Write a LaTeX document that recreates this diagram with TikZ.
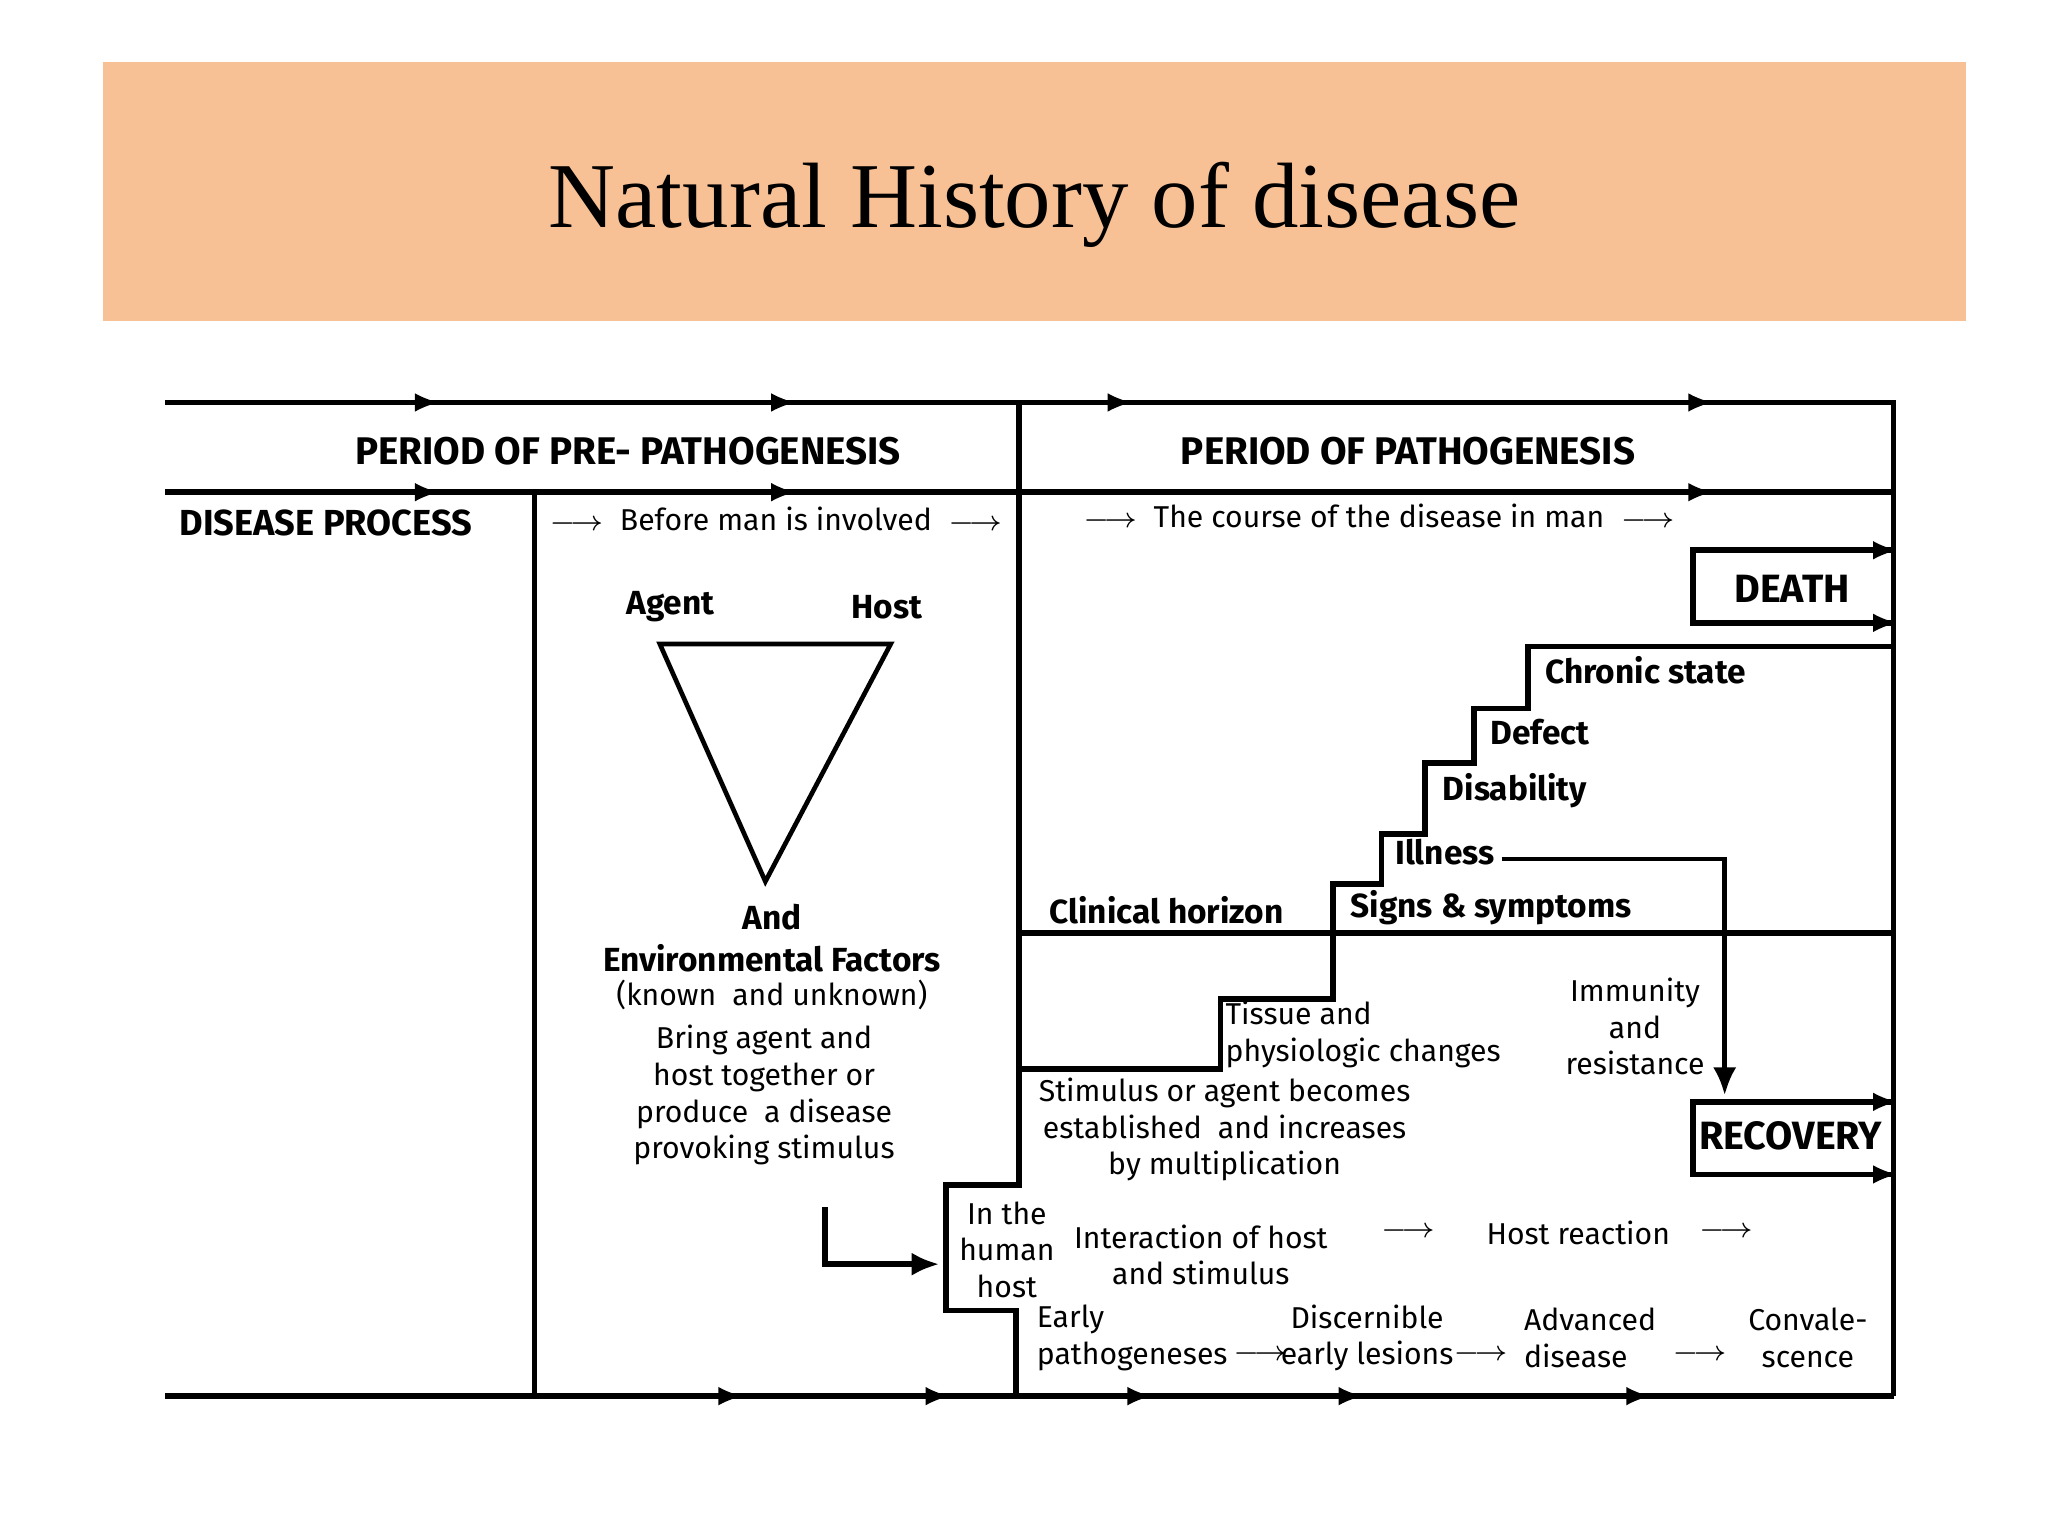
\documentclass[tikz,border=0pt]{standalone}
\usepackage{fontspec}
\setmainfont{Fira Sans}
\newfontfamily\titlefont{Liberation Serif}
\usetikzlibrary{arrows.meta}
\begin{document}
\begin{tikzpicture}[x=0.01cm,y=-0.01cm,
  ln/.style={line width=1.2pt},
  tk/.style={-{Latex[length=5pt,width=4pt]}},
  bl/.style={font=\fontsize{7.2}{9}\selectfont\bfseries},
  tx/.style={font=\fontsize{6.5}{7.9}\selectfont,align=center}]
\useasboundingbox (0,0) rectangle (1552,1164);
\fill[white] (0,0) rectangle (1552,1164);
\fill[fill={rgb,255:red,248;green,193;blue,149}] (78,47) rectangle (1490,243);
\node[font=\titlefont\fontsize{20}{24}\selectfont] (title) at (784,155) {Natural History of disease};
% frame lines
\draw[ln] (125,305) -- (1435,305) -- (1435,1058);
\draw[ln] (125,373) -- (1435,373);
\draw[ln] (125,1058) -- (1435,1058);
\draw[ln] (405,373) -- (405,1058);
\draw[ln] (772,305) -- (772,898) -- (717,898) -- (717,993) -- (770,993) -- (770,1058);
\draw[ln] (772,707) -- (1435,707);
\draw[ln] (772,810) -- (925,810) -- (925,757) -- (1010,757) -- (1010,670) -- (1047,670) -- (1047,632) -- (1080,632) -- (1080,578) -- (1117,578) -- (1117,537) -- (1158,537) -- (1158,490) -- (1435,490);
% tick arrows
\foreach \x in {330,600,855,1295} \draw[tk] (\x-10,305) -- (\x+2,305);
\foreach \x in {330,600,1295} \draw[tk] (\x-10,373) -- (\x+2,373);
\foreach \x in {560,717,870,1030,1248} \draw[tk] (\x-10,1058) -- (\x+2,1058);
% boxes
\draw[ln] (1435,417) -- (1283,417) -- (1283,472) -- (1435,472);
\draw[tk] (1420,417) -- (1437,417); \draw[tk] (1420,472) -- (1437,472);
\node[font=\fontsize{8.5}{10}\selectfont\bfseries] (death) at (1358,446) {DEATH};
\draw[ln] (1435,835) -- (1283,835) -- (1283,890) -- (1435,890);
\draw[tk] (1420,835) -- (1437,835); \draw[tk] (1420,890) -- (1437,890);
\node[font=\fontsize{8.5}{10}\selectfont\bfseries] (rec) at (1357,861) {RECOVERY};
% illness arrow
\draw[line width=1pt,-{Latex[length=6pt,width=5pt]}] (1138,651) -- (1307,651) -- (1307,830);
% triangle
\draw[line width=1pt] (500,488) -- (675,488) -- (580,668) -- cycle;
\draw[line width=1.2pt,-{Latex[length=6pt,width=5pt]}] (625,915) -- (625,958) -- (712,958);
% headings
\node[font=\fontsize{8.3}{10}\selectfont\bfseries] (h1) at (476,342) {PERIOD OF PRE- PATHOGENESIS};
\node[font=\fontsize{8.3}{10}\selectfont\bfseries] (h2) at (1067,342) {PERIOD OF PATHOGENESIS};
\node[font=\fontsize{7.8}{10}\selectfont\bfseries] (dp) at (247,396) {DISEASE PROCESS};
\node[tx] (b1) at (588,393) {$\longrightarrow$\ \ Before man is involved\ \ $\longrightarrow$};
\node[tx] (b2) at (1045,391) {$\longrightarrow$\ \ The course of the disease in man\ \ $\longrightarrow$};
\node[bl] (ag) at (508,460) {Agent};
\node[bl] (ho) at (672,460) {Host};
\node[bl,align=center] (and) at (585,711) {And\\Environmental Factors};
\node[tx] (kn) at (585,754) {(known\ \ and unknown)};
\node[tx] (br) at (579,830) {Bring agent and\\host together or\\produce\ \ a disease\\provoking stimulus};
\node[bl] at (1247,508) {Chronic state};
\node[bl] at (1167,555) {Defect};
\node[bl] at (1148,599) {Disability};
\node[bl] at (1095,646) {Illness};
\node[bl] at (1130,688) {Signs \& symptoms};
\node[bl] at (884,690) {Clinical horizon};
\node[tx,align=left] at (1033,784) {Tissue and\\physiologic changes};
\node[tx] at (1239,778) {Immunity\\and\\resistance};
\node[tx] at (928,856) {Stimulus or agent becomes\\established\ \ and increases\\by multiplication};
\node[tx] at (763,947) {In the\\human\\host};
\node[tx] at (910,951) {Interaction of host\\and stimulus};
\node[tx] at (1067,934) {$\longrightarrow$};
\node[tx] at (1196,934) {Host reaction};
\node[tx] at (1308,934) {$\longrightarrow$};
\node[tx,align=left] at (858,1014) {Early\\pathogeneses};
\node[tx] at (955,1027) {$\longrightarrow$};
\node[tx] at (1036,1014) {Discernible\\early lesions};
\node[tx] at (1122,1027) {$\longrightarrow$};
\node[tx,align=left] at (1205,1014) {Advanced\\disease};
\node[tx] at (1288,1027) {$\longrightarrow$};
\node[tx] at (1370,1014) {Convale-\\scence};
\end{tikzpicture}
\end{document}
